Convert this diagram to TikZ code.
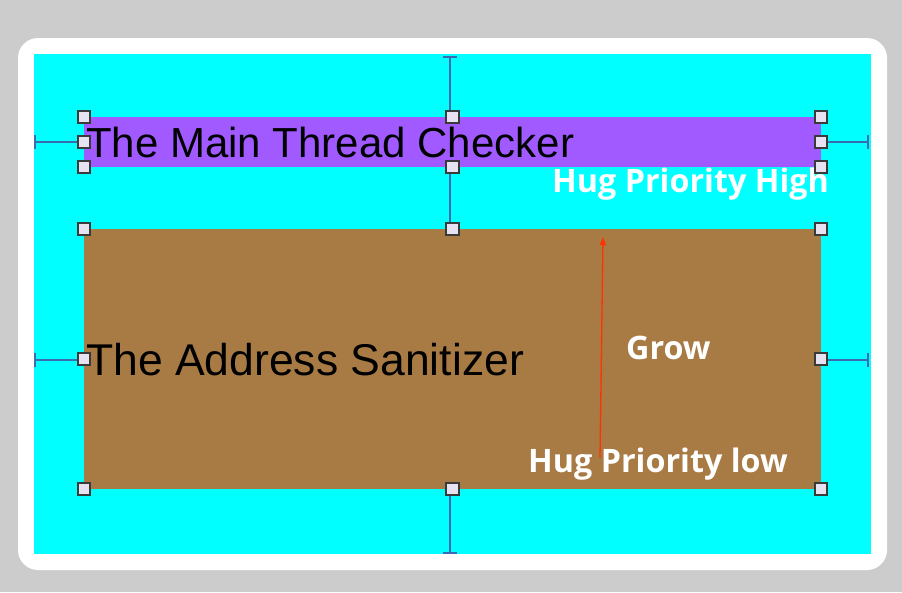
\documentclass[tikz,border=0pt]{standalone}
\usepackage{fontspec}
\setmainfont{Liberation Sans}
\newfontfamily\labelfont{Open Sans}
\usetikzlibrary{arrows.meta}
\definecolor{bggray}{HTML}{CCCCCC}
\definecolor{canvas}{HTML}{00FFFF}
\definecolor{purp}{HTML}{A05AFF}
\definecolor{brownbox}{HTML}{A87A44}
\definecolor{consblue}{HTML}{3A6DB0}
\definecolor{handlefill}{HTML}{E6E2F2}
\definecolor{handleedge}{HTML}{3A3A3A}
\definecolor{growred}{HTML}{FF3300}
\tikzset{
  viewbox/.style={rectangle, inner sep=0pt, outer sep=0pt, draw=none},
  handle/.style={rectangle, draw=handleedge, line width=1.6pt, fill=handlefill, minimum size=12.5pt, inner sep=0pt},
  cons/.style={draw=consblue, line width=1.6pt},
  consbar/.style={cons, {Bar[width=14pt, line width=1.6pt]}-},
  growarrow/.style={draw=growred, line width=1.3pt, -{Triangle[length=8pt, width=6pt]}},
  bigtext/.style={anchor=base west, inner sep=0pt, text=black},
  hug/.style={anchor=base west, inner sep=0pt, text=white, font=\labelfont\bfseries\fontsize{32.3}{38}\selectfont},
}
\begin{document}
\begin{tikzpicture}[x=1pt,y=-1pt]
\useasboundingbox (0,0) rectangle (902,592);
\fill[bggray] (0,0) rectangle (902,592);
\fill[white, rounded corners=20pt] (18,38) rectangle (887,570);
\node[viewbox, fill=canvas, minimum width=837pt, minimum height=500pt] (canvasbox) at (452.5,304) {};
\node[viewbox, fill=purp, minimum width=737pt, minimum height=50pt] (main) at (452.5,142) {};
\node[viewbox, fill=brownbox, minimum width=737pt, minimum height=260pt] (addr) at (452.5,359) {};

\node[bigtext, font=\fontsize{42}{50}\selectfont] (maintext) at (86,157) {The Main Thread Checker};
\node[bigtext, font=\fontsize{44.5}{52}\selectfont] (addrtext) at (86,375) {The Address Sanitizer};

\node[hug] (hughigh) at (552,192) {Hug Priority High};
\node[hug] (grow) at (626,359) {Grow};
\node[hug] (huglow) at (528,472) {Hug Priority low};

% constraint anchors
\coordinate (ctop) at (450,56);
\coordinate (cbot) at (450,554);
\coordinate (cml) at (34,142);
\coordinate (cmr) at (869,142);
\coordinate (cal) at (34,360);
\coordinate (car) at (869,360);
\coordinate (mtop) at (450,117);
\coordinate (mbot) at (450,167);
\coordinate (atop) at (450,229);
\coordinate (abot) at (450,489);

\draw[consbar] (ctop) -- (mtop);
\draw[cons] (mbot) -- (atop);
\draw[consbar] (cbot) -- (abot);
\draw[consbar] (cml) -- (main.west);
\draw[consbar] (cmr) -- (main.east);
\draw[consbar] (cal) -- (cal -| addr.west);
\draw[consbar] (car) -- (car -| addr.east);

% grow arrow
\coordinate (gstart) at (600,458);
\coordinate (gend) at (603,237);
\draw[growarrow] (gstart) -- (gend);

% handles
\foreach \a/\n in {north west/nw, north/n, north east/ne, west/w, east/e, south west/sw, south/s, south east/se}{
  \node[handle] (m-\n) at (main.\a) {};
  \node[handle] (a-\n) at (addr.\a) {};
}
\end{tikzpicture}
\end{document}
